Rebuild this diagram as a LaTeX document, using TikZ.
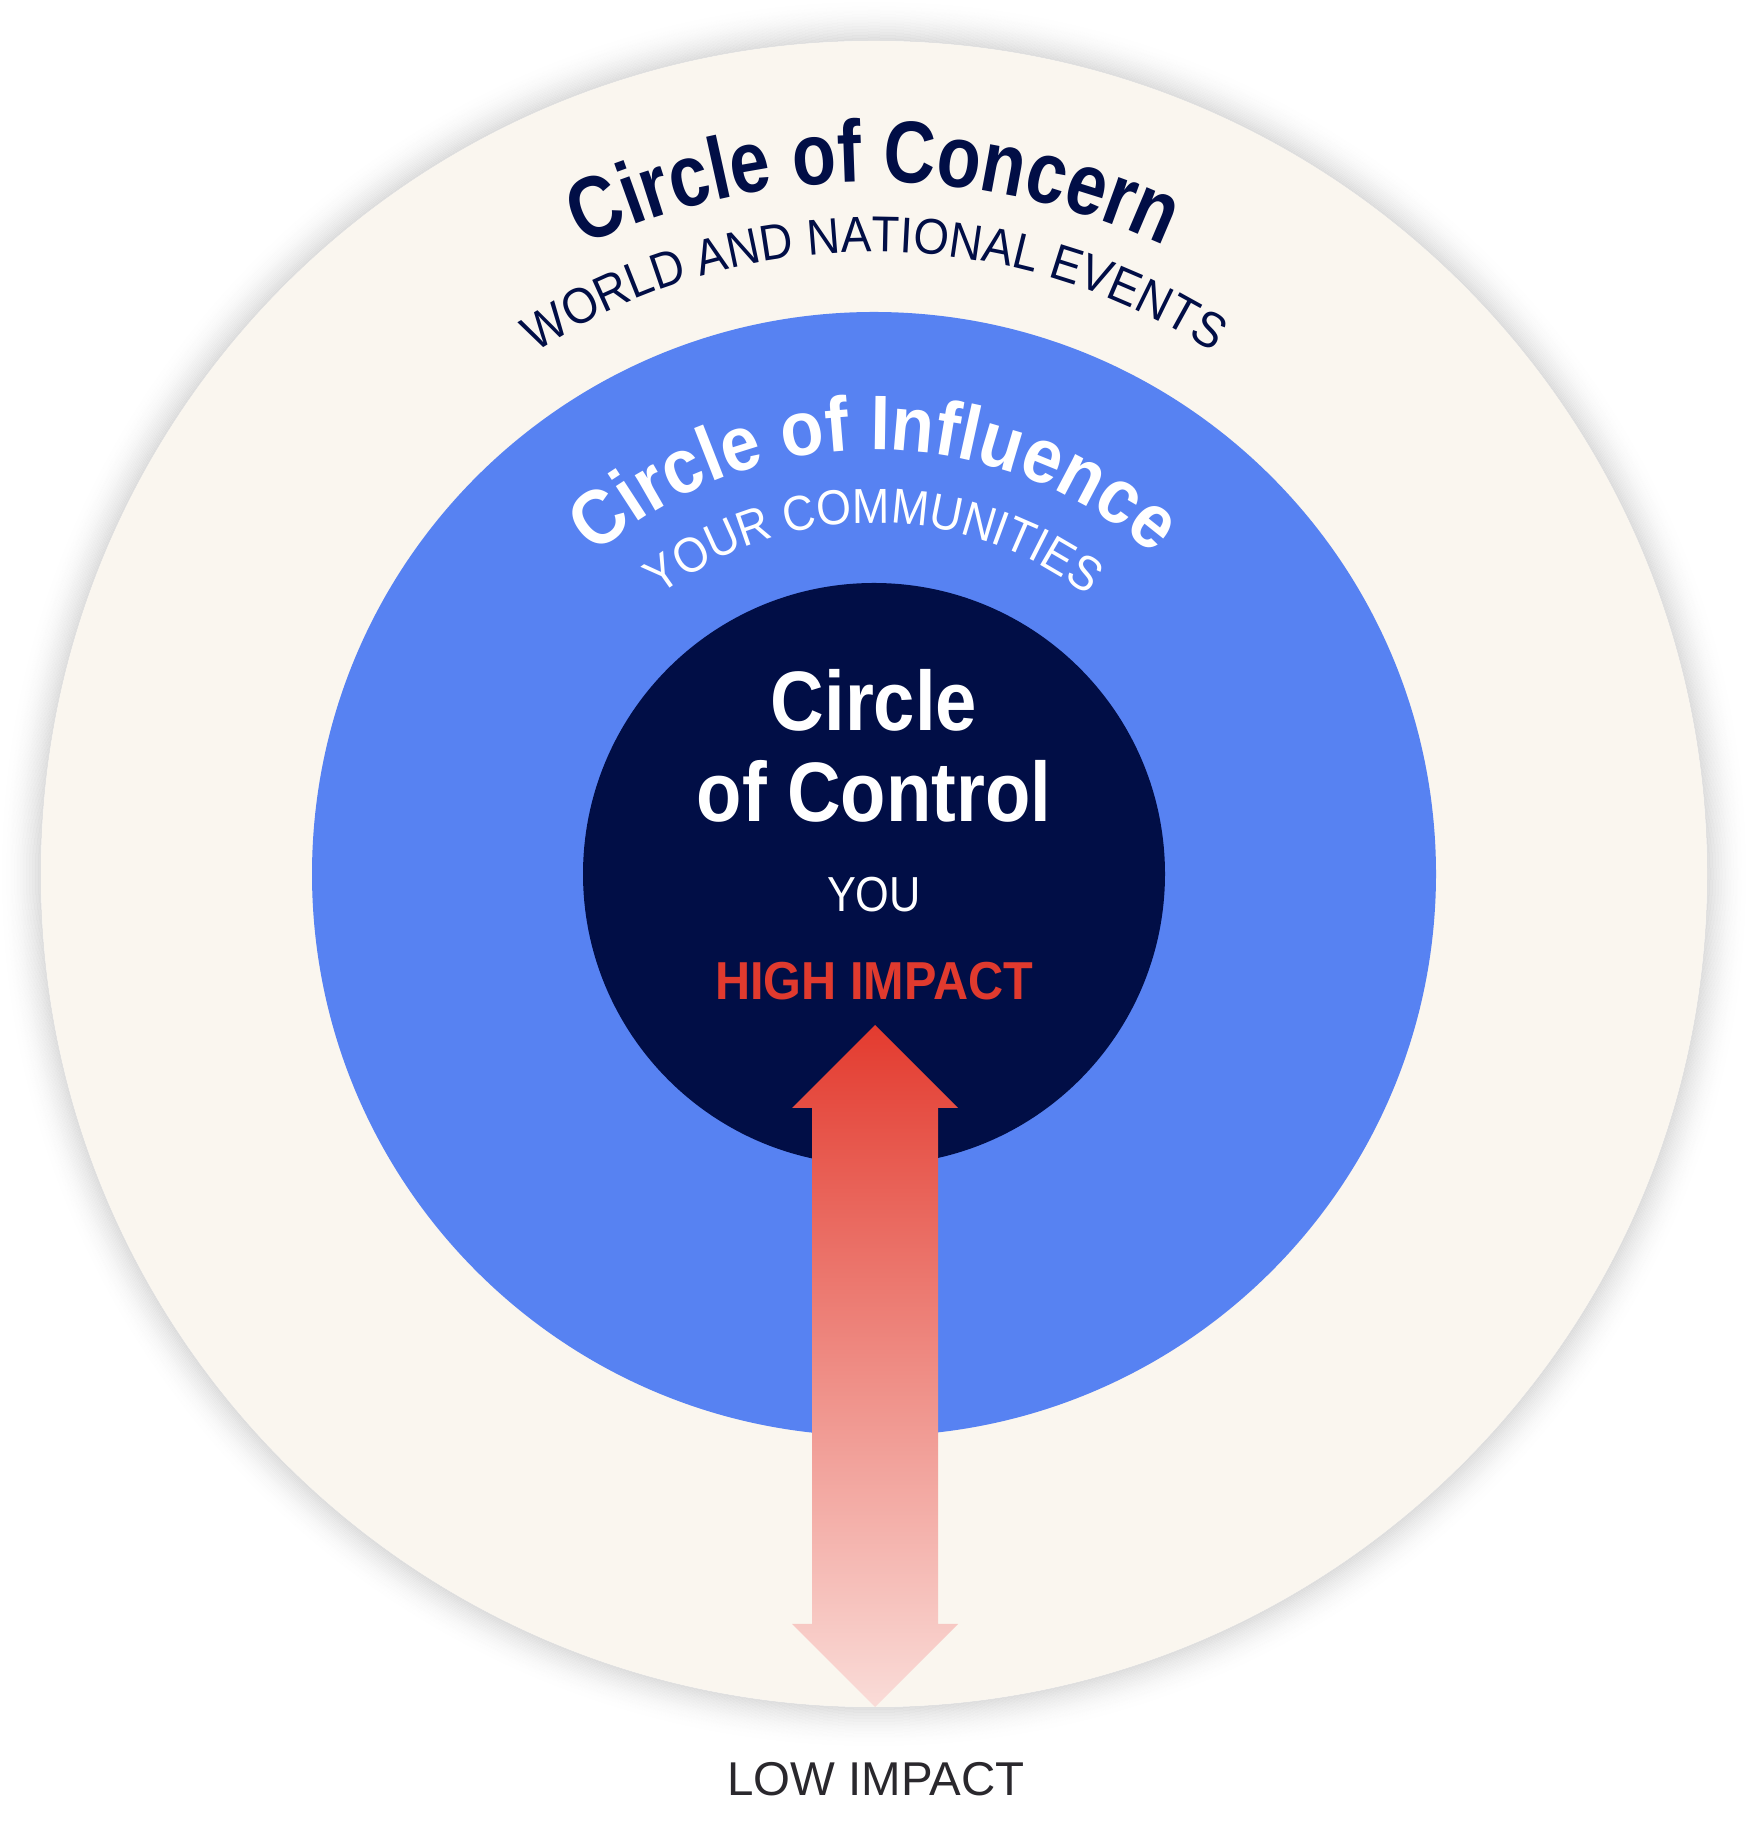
\documentclass[tikz,border=0pt]{standalone}
\usepackage{fontspec}
\setmainfont{Liberation Sans}
\newfontfamily\concernfont[FakeStretch=0.82]{Liberation Sans}
\newfontfamily\narrowfont[FakeStretch=0.88]{Liberation Sans}
\newfontfamily\midfont[FakeStretch=0.91]{Liberation Sans}
\usetikzlibrary{decorations.text,calc}
\definecolor{cream}{HTML}{FAF6EF}
\definecolor{influenceblue}{HTML}{5782F2}
\definecolor{navy}{HTML}{010E46}
\definecolor{impactred}{HTML}{E03A2E}
\definecolor{arrowtop}{HTML}{E33B2F}
\definecolor{arrowbot}{HTML}{FADCD8}
\definecolor{lowgray}{HTML}{2A282D}
\newcommand\concernfmt{\concernfont\bfseries\fontsize{25}{30}\selectfont}
\newcommand\worldfmt{\midfont\fontsize{14.3}{17}\selectfont}
\newcommand\influencefmt{\midfont\bfseries\fontsize{22}{26}\selectfont}
\newcommand\yourfmt{\midfont\fontsize{14}{17}\selectfont}
\begin{document}
\begin{tikzpicture}[x=0.1mm, y=0.1mm,
  centertitle/.style={font=\narrowfont\bfseries\fontsize{24}{28}\selectfont, text=white, inner sep=0pt, anchor=base},
  centersub/.style={font=\narrowfont\fontsize{14}{17}\selectfont, text=white, inner sep=0pt, anchor=base},
  impactlabel/.style={font=\midfont\bfseries\fontsize{15.2}{18}\selectfont, text=impactred, inner sep=0pt, anchor=base},
  lowlabel/.style={font=\fontsize{13.5}{16}\selectfont, text=lowgray, inner sep=0pt, anchor=base}]
\useasboundingbox (0,0) rectangle (1750,1834);
\fill[white] (0,0) rectangle (1750,1834);
\coordinate (C) at (874,960);
% soft shadow
\foreach \i in {1,...,30}{
  \pgfmathsetmacro\op{0.13*(1-\i/30)^2}
  \fill[black, opacity=\op, even odd rule] (C) circle[radius={833+\i*1.5}] (C) circle[radius={833+(\i-1)*1.5}];
}
\fill[cream] (C) circle[radius=833];
\fill[influenceblue] (C) circle[radius=562];
\fill[navy] (C) circle[radius=291];
% curved titles
\path[decorate, decoration={text along path, text color=navy, text align=center,
  text={|\concernfmt|Circle of Concern}}]
  ($(C)+(160:692)$) arc[start angle=160, end angle=20, radius=692];
\path[decorate, decoration={text along path, text color=navy, text align=center,
  text={|\worldfmt|WORLD AND NATIONAL EVENTS}}]
  ($(C)+(170:622)$) arc[start angle=170, end angle=10, radius=622];
\path[decorate, decoration={text along path, text color=white, text align=center,
  text={|\influencefmt|Circle of Influence}}]
  ($(C)+(175:424)$) arc[start angle=175, end angle=5, radius=424];
\path[decorate, decoration={text along path, text color=white, text align=center,
  text={|\yourfmt|YOUR COMMUNITIES}}]
  ($(C)+(175:351)$) arc[start angle=175, end angle=5, radius=351];
% centre texts
\node[centertitle] (ctitleA) at (874,1103) {Circle};
\node[centertitle] (ctitleB) at (874,1012) {of Control};
\node[centersub] (you) at (874,922) {YOU};
\node[impactlabel] (high) at (874,834) {HIGH IMPACT};
% arrow
\shade[top color=arrowtop, bottom color=arrowbot]
  (875,809) -- (958,726) -- (938,726) -- (938,210) -- (958,210) -- (875,127)
  -- (792,210) -- (812,210) -- (812,726) -- (792,726) -- cycle;
\node[lowlabel] (low) at (876,39) {LOW IMPACT};
\end{tikzpicture}
\end{document}
